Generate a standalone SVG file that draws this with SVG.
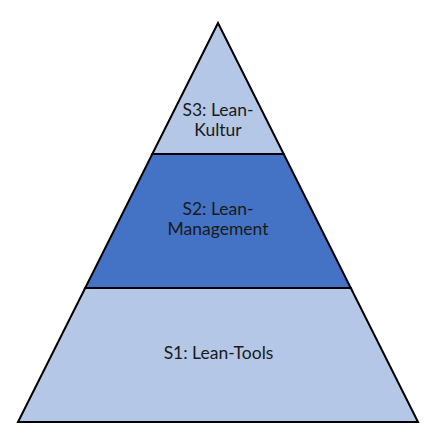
<svg xmlns="http://www.w3.org/2000/svg" width="440" height="444" viewBox="0 0 440 444">
  <style>
    .band { stroke: #000; stroke-width: 2; stroke-linejoin: miter; }
    .light { fill: #B4C7E7; }
    .dark { fill: #4472C4; }
    .lbl { font-family: Lato, "Open Sans", "Liberation Sans", sans-serif; font-size: 17.5px; fill: #1a1a1a; text-anchor: middle; }
  </style>
  <rect width="440" height="444" fill="#fff"/>
  <g id="s1">
    <polygon class="band light" points="85.2,288 350.8,288 418,422 18,422"/>
    <text class="lbl" x="218.5" y="358.5">S1: Lean-Tools</text>
  </g>
  <g id="s2">
    <polygon class="band dark" points="152.3,154 283.7,154 350.8,288 85.2,288"/>
    <text class="lbl" x="218" y="215">S2: Lean-</text>
    <text class="lbl" x="218" y="235">Management</text>
  </g>
  <g id="s3">
    <polygon class="band light" points="218,23 283.7,154 152.3,154"/>
    <text class="lbl" x="218" y="116">S3: Lean-</text>
    <text class="lbl" x="218" y="136">Kultur</text>
  </g>
  <g id="connectors"></g>
</svg>
